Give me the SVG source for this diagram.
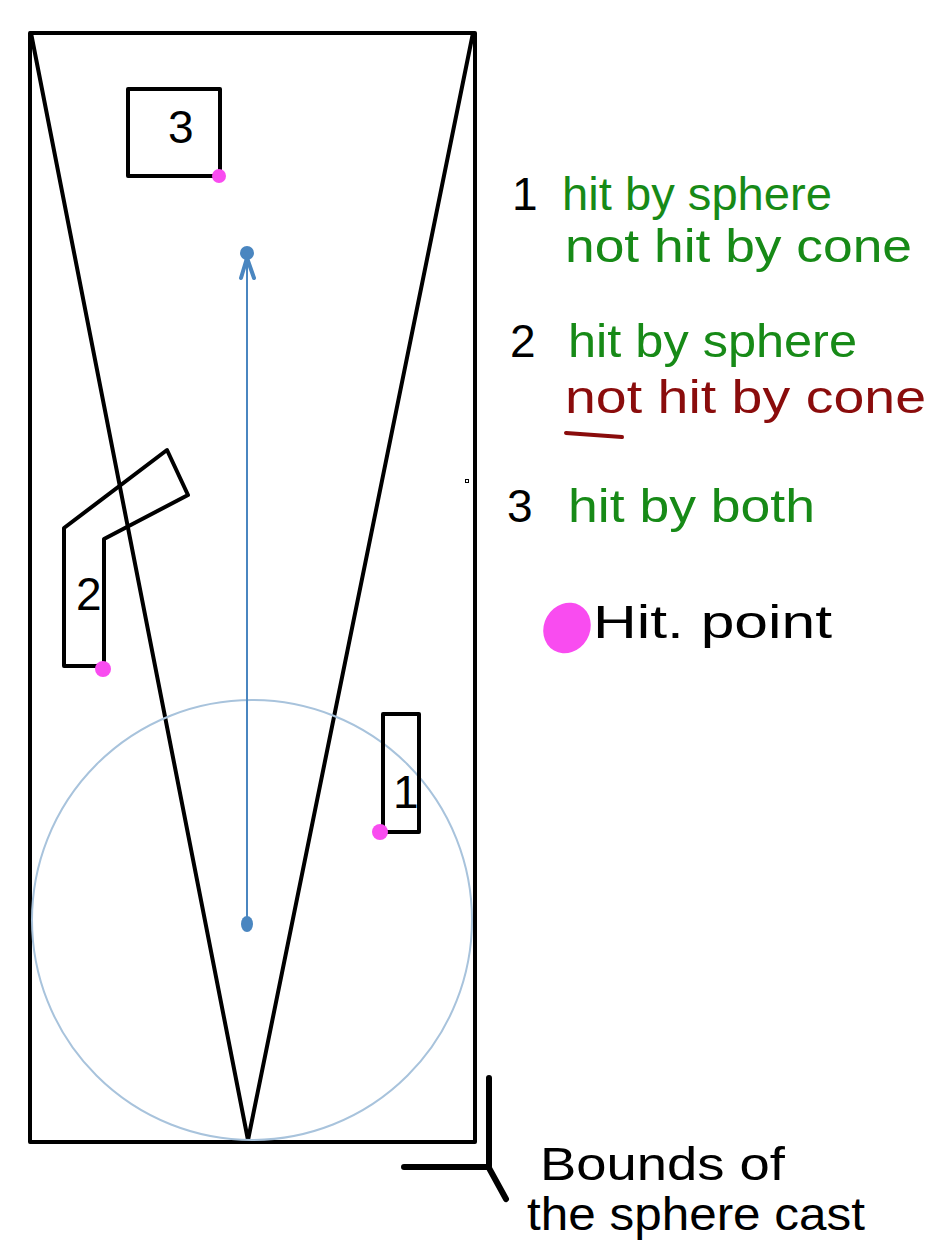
<svg xmlns="http://www.w3.org/2000/svg" width="936" height="1259" viewBox="0 0 936 1259">
<style>
.ink{fill:none;stroke:#000;stroke-width:4;stroke-linejoin:round;stroke-linecap:round}
.hit{fill:#f94cf0}
.t{font-family:"Liberation Sans","DejaVu Sans",sans-serif;font-size:46px}
.g{fill:#178a17}
.r{fill:#8a0c0c}
.k{fill:#000}
</style>
<rect width="936" height="1259" fill="#fff"/>
<g id="bounds">
<rect x="30" y="33" width="445" height="1109" class="ink"/>
</g>
<g id="cone">
<polyline points="31,33 248,1140 473,33" class="ink" stroke-width="3.5"/>
</g>
<g id="sphere">
<circle cx="252" cy="920" r="220" fill="none" stroke="#a8c3dc" stroke-width="2"/>
</g>
<g id="connectors">
<line x1="247" y1="922" x2="247" y2="258" stroke="#4a86c0" stroke-width="2"/>
<path d="M241,278 L247,258 L254,278" fill="none" stroke="#4a86c0" stroke-width="4" stroke-linecap="round" stroke-linejoin="round"/>
<circle cx="247" cy="253" r="7" fill="#4a86c0"/>
<ellipse cx="247" cy="924" rx="6" ry="8" fill="#4a86c0"/>
</g>
<g id="obj3">
<rect x="128" y="89" width="92" height="87" class="ink" stroke-width="5"/>
<text x="168" y="143" class="t k" font-size="30">3</text>
<circle cx="219" cy="176" r="7" class="hit"/>
</g>
<g id="obj2">
<polygon points="64,666 64,528 167,450 188,495 104,539 104,666" class="ink" stroke-width="5"/>
<text x="76" y="610" class="t k" font-size="30">2</text>
<circle cx="103" cy="669" r="8" class="hit"/>
</g>
<g id="obj1">
<rect x="383" y="714" width="36" height="118" class="ink" stroke-width="5"/>
<text x="393" y="808" class="t k" font-size="30">1</text>
<circle cx="380" cy="832" r="8" class="hit"/>
</g>
<rect x="465.5" y="479.5" width="3" height="3" fill="none" stroke="#000" stroke-width="1"/>
<g id="legend">
<text x="512" y="210" class="t k">1</text>
<text x="562" y="210" class="t g" textLength="270" lengthAdjust="spacingAndGlyphs">hit by sphere</text>
<text x="565" y="262" class="t g" textLength="347" lengthAdjust="spacingAndGlyphs">not hit by cone</text>
<text x="510" y="357" class="t k">2</text>
<text x="568" y="357" class="t g" textLength="289" lengthAdjust="spacingAndGlyphs">hit by sphere</text>
<text x="565" y="413" class="t r" textLength="361" lengthAdjust="spacingAndGlyphs">not hit by cone</text>
<line x1="566" y1="433" x2="622" y2="437" stroke="#8a0c0c" stroke-width="4" stroke-linecap="round"/>
<text x="507" y="522" class="t k">3</text>
<text x="568" y="522" class="t g" textLength="247" lengthAdjust="spacingAndGlyphs">hit by both</text>
<ellipse cx="567" cy="628" rx="23" ry="26" transform="rotate(30 567 628)" class="hit"/>
<text x="593" y="638" class="t k" font-size="50" textLength="239" lengthAdjust="spacingAndGlyphs">Hit. point</text>
</g>
<g id="bounds-label">
<path d="M489,1078 L489,1168 M404,1167 L489,1167 M489,1168 L506,1199" fill="none" stroke="#000" stroke-width="6" stroke-linecap="round"/>
<text x="540" y="1180" class="t k" font-size="54" textLength="245" lengthAdjust="spacingAndGlyphs">Bounds of</text>
<text x="527" y="1230" class="t k" font-size="54" textLength="338" lengthAdjust="spacingAndGlyphs">the sphere cast</text>
</g>
</svg>
